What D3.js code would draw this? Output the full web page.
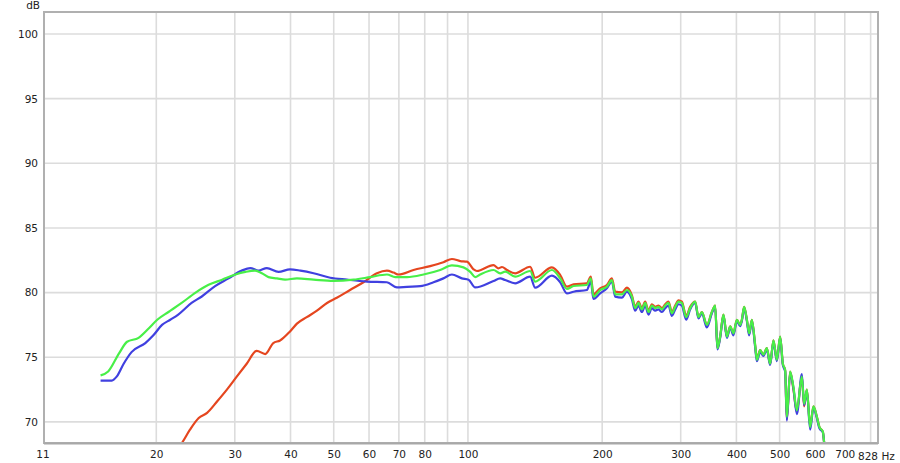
<!DOCTYPE html>
<html>
<head>
<meta charset="utf-8">
<script src="https://cdn.jsdelivr.net/npm/d3@7"></script>
<style>
  html, body { margin: 0; padding: 0; background: #fff; }
  svg { display: block; }
  text { font-family: "DejaVu Sans", "Liberation Sans", sans-serif; font-size: 10.5px; fill: #222; }
</style>
</head>
<body>
<svg id="chart" width="900" height="463"></svg>
<script>
// ---------- DATA ----------
const yTicks = [70, 75, 80, 85, 90, 95, 100];
const xGrid = [20, 30, 40, 50, 60, 70, 80, 90, 100, 200, 300, 400, 500, 600, 700, 800];
const xLabels = [11, 20, 30, 40, 50, 60, 70, 80, 100, 200, 300, 400, 500, 600, 700];
const xEndLabel = "828 Hz";
const yUnit = "dB";

// low / mid frequency part of each series
const redFreq = [22.2, 22.8, 23.8, 24.9, 26.0, 27.4, 28.8, 30.3, 31.9, 33.6, 35.1, 36.6, 37.9, 39.9, 41.35, 43.5, 45.85, 48.3, 50.8, 54.4, 58.3, 62.5, 65.8, 68.1, 69.9, 75.5, 82.3, 88.1, 92.05, 96.1, 99.5, 102.9, 104.7, 114.1, 117.1, 119.2, 122.3, 127.6, 137.9, 141.5, 154.3, 161.05, 166.7, 172.5, 184.8, 188.6, 191.2, 197.9, 204.9, 210.3, 213.9, 221.4, 227.2];
const redDb = [67.9, 68.35, 69.4, 70.3, 70.7, 71.6, 72.5, 73.5, 74.5, 75.5, 75.25, 76.1, 76.3, 77.0, 77.6, 78.1, 78.6, 79.2, 79.6, 80.2, 80.8, 81.5, 81.7, 81.55, 81.4, 81.75, 82.05, 82.35, 82.6, 82.44, 82.39, 81.8, 81.67, 82.13, 81.88, 81.98, 81.75, 81.49, 82.0, 81.15, 81.95, 81.36, 80.46, 80.64, 80.72, 81.23, 79.87, 80.33, 80.59, 81.1, 80.07, 80.02, 80.38];

const blueFreq = [15.0, 15.9, 16.3, 16.9, 17.6, 18.9, 19.7, 20.6, 21.5, 22.4, 24.0, 25.3, 27.1, 29.05, 31.1, 32.5, 33.9, 35.4, 37.6, 39.9, 42.1, 45.05, 49.1, 53.5, 59.35, 65.8, 69.3, 73.0, 78.15, 83.7, 88.1, 92.05, 96.9, 100.3, 103.8, 114.1, 118.1, 121.2, 127.6, 137.9, 141.5, 154.3, 161.05, 166.7, 172.5, 184.8, 188.6, 191.2, 197.9, 204.9, 210.3, 213.9, 221.4, 227.2];
const blueDb = [73.2, 73.2, 73.5, 74.5, 75.4, 76.1, 76.7, 77.5, 77.9, 78.3, 79.2, 79.7, 80.5, 81.1, 81.7, 81.9, 81.7, 81.9, 81.6, 81.8, 81.7, 81.5, 81.15, 81.0, 80.85, 80.8, 80.4, 80.45, 80.5, 80.8, 81.1, 81.4, 81.1, 81.0, 80.4, 80.9, 81.1, 80.97, 80.72, 81.23, 80.38, 81.31, 80.79, 79.94, 80.07, 80.2, 80.85, 79.51, 79.94, 80.33, 80.85, 79.69, 79.61, 80.07];

const greenFreq = [15.0, 15.6, 16.5, 17.2, 18.25, 19.2, 20.1, 21.3, 22.8, 24.5, 26.2, 28.1, 30.1, 31.7, 33.3, 34.5, 35.7, 37.3, 38.9, 41.35, 45.05, 49.95, 55.4, 60.4, 65.8, 68.7, 73.0, 79.5, 86.65, 92.05, 97.7, 101.2, 103.8, 106.5, 114.1, 118.1, 121.2, 127.6, 137.9, 141.5, 154.3, 161.05, 166.7, 172.5, 184.8, 188.6, 191.2, 197.9, 204.9, 210.3, 213.9, 221.4, 227.2];
const greenDb = [73.6, 73.9, 75.3, 76.2, 76.5, 77.2, 77.9, 78.5, 79.2, 80.0, 80.6, 81.0, 81.4, 81.6, 81.7, 81.5, 81.2, 81.1, 81.0, 81.1, 81.0, 80.9, 81.0, 81.2, 81.4, 81.2, 81.2, 81.4, 81.75, 82.1, 81.95, 81.6, 81.2, 81.4, 81.75, 81.49, 81.62, 81.23, 81.67, 80.85, 81.75, 81.1, 80.28, 80.51, 80.59, 81.1, 79.69, 80.2, 80.46, 80.97, 79.87, 79.87, 80.2];

// high frequency part (shared frequencies)
const hfFreq = [233.1, 237.2, 241.2, 245.5, 249.7, 254.0, 258.5, 263.0, 267.5, 272.2, 276.9, 281.7, 286.6, 291.6, 296.6, 301.8, 308.6, 315.0, 323.3, 328.8, 334.7, 343.4, 352.4, 358.4, 362.7, 367.8, 374.1, 380.8, 387.3, 393.9, 400.9, 407.8, 411.4, 416.3, 422.2, 427.2, 433.2, 440.6, 444.5, 452.2, 459.9, 468.1, 476.1, 484.3, 492.9, 501.4, 508.4, 514.5, 519.0, 527.9, 537.0, 546.5, 560.8, 567.5, 575.5, 585.4, 595.4, 606.0, 614.2, 625.0, 629.3, 640.0];
const hfRed =   [79.8, 78.9, 79.3, 78.8, 79.3, 78.6, 79.1, 78.9, 79.0, 78.8, 79.1, 79.3, 78.5, 79.0, 79.4, 79.3, 78.2, 78.9, 79.3, 78.1, 78.5, 77.5, 78.5, 79.0, 75.7, 76.6, 78.3, 76.6, 77.4, 76.85, 77.9, 77.5, 77.9, 78.9, 77.9, 76.85, 77.9, 75.95, 74.9, 75.55, 75.2, 75.7, 74.5, 76.3, 74.8, 76.6, 74.5, 74.0, 70.2, 73.9, 72.5, 70.8, 73.5, 71.2, 72.5, 69.7, 71.2, 70.4, 69.6, 69.25, 68.4, 67.2];
const hfBlue =  [79.5, 78.6, 79.0, 78.5, 79.0, 78.3, 78.8, 78.6, 78.7, 78.5, 78.8, 79.0, 78.2, 78.7, 79.1, 79.0, 77.9, 78.7, 79.2, 78.0, 78.4, 77.3, 78.4, 78.9, 75.6, 76.5, 78.2, 76.5, 77.3, 76.7, 77.8, 77.4, 77.8, 78.8, 77.8, 76.7, 77.8, 75.8, 74.7, 75.4, 75.1, 75.6, 74.4, 76.2, 74.7, 76.5, 74.4, 73.9, 70.1, 73.8, 72.6, 70.6, 73.7, 71.3, 72.4, 69.4, 71.1, 70.3, 69.5, 69.2, 68.4, 67.2];
const hfGreen = [79.7, 78.8, 79.2, 78.7, 79.2, 78.5, 79.0, 78.8, 78.9, 78.7, 79.0, 79.2, 78.4, 78.9, 79.3, 79.2, 78.1, 78.8, 79.3, 78.1, 78.5, 77.5, 78.5, 79.0, 75.7, 76.6, 78.3, 76.6, 77.4, 76.85, 77.9, 77.5, 77.9, 78.9, 77.9, 76.85, 77.9, 75.95, 74.8, 75.55, 75.2, 75.7, 74.5, 76.3, 74.8, 76.6, 74.5, 74.0, 70.4, 73.9, 72.7, 70.9, 73.5, 71.4, 72.5, 69.6, 71.2, 70.4, 69.6, 69.25, 68.4, 67.2];

// ---------- CHART ----------
const W = 900, H = 463;
const plot = { left: 44, right: 878, top: 12, bottom: 443 };
const svg = d3.select("#chart");

const x = d3.scaleLog().domain([11.2, 831]).range([plot.left, plot.right]);
const y = d3.scaleLinear().domain([68.37, 101.7]).range([plot.bottom, plot.top]);

// gridlines
const grid = svg.append("g");
grid.selectAll("line.h").data(yTicks).join("line")
  .attr("x1", plot.left).attr("x2", plot.right)
  .attr("y1", d => y(d)).attr("y2", d => y(d))
  .attr("stroke", "#dcdcdc").attr("stroke-width", 1.6);
grid.selectAll("line.v").data(xGrid).join("line")
  .attr("y1", plot.top).attr("y2", plot.bottom)
  .attr("x1", d => x(d)).attr("x2", d => x(d))
  .attr("stroke", "#dcdcdc").attr("stroke-width", 1.6);

// axes (labels only, no tick marks)
const yAxis = d3.axisLeft(y).tickValues(yTicks).tickSize(0).tickPadding(6).tickFormat(d3.format("d"));
const yg = svg.append("g").attr("transform", `translate(${plot.left},0)`).call(yAxis);
yg.select(".domain").remove();
yg.selectAll("text").style("font-size", "10.5px").attr("fill", "#222");

const xAxis = d3.axisBottom(x).tickValues(xLabels).tickSize(0).tickPadding(8).tickFormat(d3.format("d"));
const xg = svg.append("g").attr("transform", `translate(0,${plot.bottom})`).call(xAxis);
xg.select(".domain").remove();
xg.selectAll("text").style("font-size", "10.5px").attr("fill", "#222");
xg.selectAll(".tick").filter(d => d === 11).select("text").attr("dx", 2);

svg.append("text").attr("x", 858).attr("y", plot.bottom + 17).text(xEndLabel);
svg.append("text").attr("x", 40).attr("y", 9).attr("text-anchor", "end").text(yUnit);

// clip
svg.append("clipPath").attr("id", "clip").append("rect")
  .attr("x", plot.left).attr("y", plot.top)
  .attr("width", plot.right - plot.left).attr("height", plot.bottom - plot.top);

function pts(f, v, hf, hv) {
  const a = f.map((d, i) => [d, v[i]]);
  return a.concat(hf.map((d, i) => [d, hv[i]]));
}
const series = [
  { color: "#e5461f", data: pts(redFreq, redDb, hfFreq, hfRed) },
  { color: "#4040e0", data: pts(blueFreq, blueDb, hfFreq, hfBlue) },
  { color: "#48ef48", data: pts(greenFreq, greenDb, hfFreq, hfGreen) }
];
const line = d3.line().x(d => x(d[0])).y(d => y(d[1])).curve(d3.curveMonotoneX);
svg.append("g").attr("clip-path", "url(#clip)")
  .selectAll("path").data(series).join("path")
  .attr("d", d => line(d.data))
  .attr("fill", "none").attr("stroke", d => d.color)
  .attr("stroke-width", 2.2).attr("stroke-linejoin", "round");

// frame
svg.append("rect")
  .attr("x", plot.left).attr("y", plot.top)
  .attr("width", plot.right - plot.left).attr("height", plot.bottom - plot.top)
  .attr("fill", "none").attr("stroke", "#b0b0b0").attr("stroke-width", 2);
svg.append("line")
  .attr("x1", plot.left).attr("x2", plot.right)
  .attr("y1", plot.bottom + 0.5).attr("y2", plot.bottom + 0.5)
  .attr("stroke", "#a8a8a8").attr("stroke-width", 2);
</script>
</body>
</html>
